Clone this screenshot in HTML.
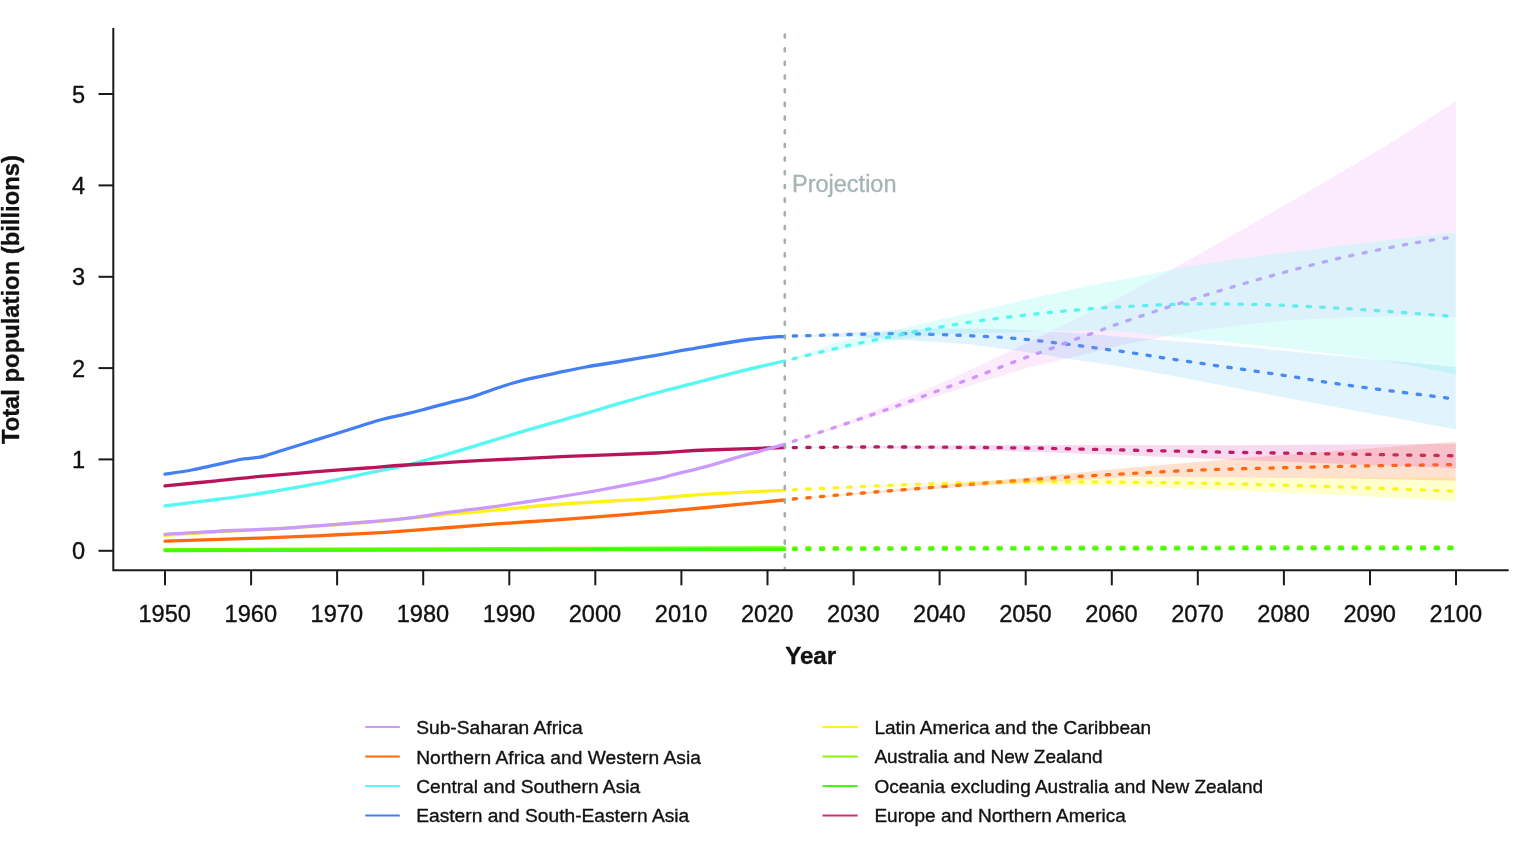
<!DOCTYPE html>
<html lang="en"><head><meta charset="utf-8"><title>Total population by region</title>
<style>html,body{margin:0;padding:0;background:#fff}body{width:1536px;height:854px;overflow:hidden}svg{display:block;filter:blur(0.45px)}text{font-family:"Liberation Sans",Arial,Helvetica,sans-serif;fill:#111;stroke:#111;stroke-width:0.35px}</style></head><body>
<svg width="1536" height="854" viewBox="0 0 1536 854">
<rect width="1536" height="854" fill="#fff"/>
<g fill="none" stroke-width="3.3" stroke-linecap="round" stroke-linejoin="round">
<path d="M165.0 549.6 C204.2 549.5 327.5 549.2 400.0 549.0 C472.5 548.8 535.9 548.6 600.0 548.4 C664.1 548.2 753.8 548.0 784.5 547.9" stroke="#8cf010"/>
<path d="M165.0 550.5 C204.2 550.4 327.5 550.2 400.0 550.1 C472.5 550.0 535.9 549.8 600.0 549.7 C664.1 549.6 753.8 549.5 784.5 549.4" stroke="#3dff0a"/>
<path d="M165.0 535.3 C173.6 534.7 199.8 532.8 216.7 531.8 C233.6 530.8 250.0 530.4 266.7 529.4 C283.4 528.4 300.0 527.2 316.7 526.0 C333.4 524.8 352.8 523.5 366.7 522.4 C380.6 521.3 386.1 520.6 400.0 519.2 C413.9 517.8 433.3 515.8 450.0 514.2 C466.7 512.6 483.3 511.2 500.0 509.7 C516.7 508.2 533.3 506.3 550.0 505.0 C566.7 503.7 582.3 502.8 600.0 501.7 C617.7 500.6 638.2 499.6 656.0 498.3 C673.8 497.1 685.3 495.5 706.7 494.2 C728.1 492.9 771.5 490.9 784.5 490.3" stroke="#fbf21c"/>
<path d="M165.0 541.2 C181.9 540.6 241.4 538.7 266.7 537.8 C292.0 536.9 300.0 536.5 316.7 535.8 C333.4 535.0 351.8 534.1 366.7 533.3 C381.6 532.5 392.1 531.8 406.0 530.8 C419.9 529.8 434.3 528.7 450.0 527.5 C465.7 526.3 483.3 524.9 500.0 523.7 C516.7 522.5 533.3 521.5 550.0 520.3 C566.7 519.1 582.3 518.1 600.0 516.7 C617.7 515.3 638.2 513.5 656.0 512.0 C673.8 510.5 685.3 509.5 706.7 507.5 C728.1 505.5 771.5 501.2 784.5 500.0" stroke="#ff6a10"/>
<path d="M165.0 474.2 C169.4 473.5 183.1 471.6 191.7 470.0 C200.3 468.4 208.6 466.4 216.7 464.7 C224.8 462.9 234.4 460.6 240.0 459.5 C245.6 458.4 246.7 458.7 250.0 458.3 C253.3 457.9 257.2 457.7 260.0 457.2 C262.8 456.7 262.8 456.5 266.7 455.3 C270.6 454.1 274.4 452.8 283.3 450.0 C292.2 447.2 308.1 442.4 320.0 438.7 C331.9 435.0 345.0 430.8 355.0 427.7 C365.0 424.6 371.7 422.2 380.0 420.0 C388.3 417.8 398.1 415.9 405.0 414.2 C411.9 412.5 414.8 411.8 421.7 410.0 C428.6 408.2 438.9 405.3 446.7 403.3 C454.5 401.3 462.8 399.5 468.3 398.0 C473.9 396.5 475.3 395.8 480.0 394.2 C484.7 392.6 491.1 390.2 496.7 388.3 C502.2 386.4 507.7 384.6 513.3 383.0 C518.8 381.4 523.0 380.3 530.0 378.7 C537.0 377.1 545.7 375.2 555.0 373.3 C564.3 371.4 575.7 368.9 586.0 367.0 C596.3 365.1 605.0 363.9 616.7 362.0 C628.4 360.1 643.8 357.4 656.0 355.3 C668.2 353.2 674.6 351.8 690.0 349.2 C705.4 346.6 732.5 341.6 748.3 339.5 C764.0 337.4 778.5 336.8 784.5 336.3" stroke="#437ff2"/>
<path d="M165.0 505.8 C173.6 504.8 199.8 501.7 216.7 499.5 C233.6 497.3 250.0 495.1 266.7 492.5 C283.4 489.9 300.0 486.9 316.7 483.7 C333.4 480.5 351.8 476.4 366.7 473.3 C381.6 470.2 393.5 468.3 406.0 465.4 C418.5 462.5 428.8 459.5 441.7 455.8 C454.6 452.1 468.0 447.9 483.3 443.3 C498.6 438.7 516.6 433.2 533.3 428.3 C550.0 423.4 569.4 418.2 583.3 414.2 C597.2 410.2 604.6 407.7 616.7 404.2 C628.8 400.7 643.8 396.3 656.0 393.0 C668.2 389.7 676.0 387.8 690.0 384.2 C704.0 380.6 724.2 375.2 740.0 371.3 C755.8 367.4 777.1 362.7 784.5 361.0" stroke="#55f8f2"/>
<path d="M165.0 485.8 C173.6 485.0 199.8 482.5 216.7 480.8 C233.6 479.1 250.0 477.3 266.7 475.8 C283.4 474.3 300.0 473.0 316.7 471.7 C333.4 470.4 351.8 469.1 366.7 468.0 C381.6 466.9 386.6 466.3 406.0 465.0 C425.4 463.7 456.5 461.8 483.3 460.4 C510.1 459.0 537.9 457.6 566.7 456.4 C595.5 455.2 632.7 454.1 656.0 453.0 C679.3 451.9 685.3 450.9 706.7 450.0 C728.1 449.1 771.5 447.9 784.5 447.5" stroke="#b8145a"/>
<path d="M165.0 534.3 C173.6 533.8 199.8 532.1 216.7 531.3 C233.6 530.4 250.0 530.1 266.7 529.2 C283.4 528.3 300.0 527.0 316.7 525.8 C333.4 524.6 351.8 523.2 366.7 522.0 C381.6 520.8 392.1 519.9 406.0 518.3 C419.9 516.7 434.3 514.3 450.0 512.2 C465.7 510.1 483.3 508.1 500.0 505.8 C516.7 503.5 533.3 500.9 550.0 498.3 C566.7 495.7 582.3 493.2 600.0 490.0 C617.7 486.8 643.8 481.8 656.0 479.2 C668.2 476.6 664.8 476.8 673.3 474.7 C681.8 472.6 695.6 469.3 706.7 466.3 C717.8 463.3 727.0 460.4 740.0 456.7 C753.0 453.0 777.1 446.4 784.5 444.4" stroke="#cc99ff"/>
</g>
<g fill="none" stroke-width="3.3" stroke-linecap="round" stroke-linejoin="round" stroke-dasharray="3.3 10.35">
<path d="M793.3 547.8 C844.4 547.7 989.6 547.4 1100.0 547.2 C1210.4 547.0 1396.7 546.9 1456.0 546.8" stroke="#8cf010"/>
<path d="M793.3 549.3 C844.4 549.2 989.6 548.9 1100.0 548.8 C1210.4 548.7 1396.7 548.5 1456.0 548.5" stroke="#3dff0a"/>
<path d="M793.3 489.8 C809.4 489.1 862.2 486.4 890.0 485.3 C917.8 484.2 935.0 483.6 960.0 483.0 C985.0 482.4 1015.3 482.2 1040.0 482.0 C1064.7 481.8 1084.4 481.8 1108.3 482.0 C1132.2 482.2 1160.5 482.6 1183.3 483.0 C1206.1 483.4 1217.2 483.5 1245.0 484.2 C1272.8 484.9 1314.8 486.1 1350.0 487.3 C1385.2 488.5 1438.3 490.6 1456.0 491.3" stroke="#fbf21c"/>
<path d="M793.3 499.0 C802.5 498.2 832.2 495.6 848.3 494.2 C864.4 492.8 864.7 492.8 890.0 490.8 C915.3 488.8 970.5 484.3 1000.0 482.0 C1029.5 479.7 1044.5 478.6 1066.7 477.2 C1088.9 475.8 1111.1 474.5 1133.3 473.3 C1155.5 472.1 1181.4 470.8 1200.0 470.0 C1218.6 469.2 1220.0 469.3 1245.0 468.7 C1270.0 468.1 1314.8 466.9 1350.0 466.2 C1385.2 465.5 1438.3 464.8 1456.0 464.5" stroke="#ff6a10"/>
<path d="M793.3 336.0 C809.4 335.6 866.9 334.0 890.0 333.7 C913.1 333.4 918.1 333.9 931.7 334.3 C945.3 334.7 958.1 335.1 971.7 335.8 C985.3 336.5 999.7 337.2 1013.3 338.3 C1026.9 339.4 1039.7 340.9 1053.3 342.5 C1066.9 344.1 1081.4 346.0 1095.0 347.8 C1108.6 349.6 1123.6 351.6 1135.0 353.3 C1146.4 355.0 1151.9 356.1 1163.3 357.8 C1174.7 359.5 1189.7 361.7 1203.3 363.7 C1216.9 365.7 1231.1 367.7 1245.0 369.7 C1258.9 371.7 1273.1 373.7 1286.7 375.8 C1300.3 377.9 1313.1 380.2 1326.7 382.2 C1340.3 384.2 1346.8 385.2 1368.3 388.0 C1389.8 390.8 1441.4 397.3 1456.0 399.2" stroke="#437ff2"/>
<path d="M793.3 358.8 C802.5 356.6 832.2 349.1 848.3 345.5 C864.4 341.9 878.5 339.4 890.0 337.0 C901.5 334.6 908.3 333.0 917.5 331.2 C926.7 329.4 933.8 328.2 945.0 326.3 C956.2 324.4 971.4 321.9 985.0 320.0 C998.6 318.1 1013.1 316.5 1026.7 315.0 C1040.3 313.5 1053.1 312.1 1066.7 310.8 C1080.3 309.6 1096.9 308.3 1108.3 307.5 C1119.7 306.7 1126.1 306.6 1135.0 306.1 C1143.9 305.7 1150.3 305.2 1161.7 304.8 C1173.1 304.4 1189.4 304.0 1203.3 303.9 C1217.2 303.8 1231.1 303.9 1245.0 304.2 C1258.9 304.5 1273.1 304.9 1286.7 305.5 C1300.3 306.1 1313.1 306.8 1326.7 307.5 C1340.3 308.2 1346.8 308.5 1368.3 310.0 C1389.8 311.5 1441.4 315.5 1456.0 316.6" stroke="#55f8f2"/>
<path d="M793.3 447.6 C804.9 447.5 837.4 447.1 863.0 447.0 C888.6 446.9 919.4 447.0 946.7 447.2 C974.0 447.4 999.8 447.6 1026.7 448.0 C1053.6 448.4 1071.9 448.9 1108.3 449.7 C1144.7 450.4 1187.0 451.5 1245.0 452.5 C1303.0 453.5 1420.8 455.2 1456.0 455.8" stroke="#b8145a"/>
<path d="M793.3 441.3 C798.0 439.7 810.3 435.5 821.7 431.7 C833.1 427.9 848.4 422.9 861.7 418.3 C875.0 413.7 888.7 408.9 901.7 404.2 C914.8 399.5 927.2 394.7 940.0 390.0 C952.8 385.3 965.2 380.8 978.3 375.8 C991.3 370.9 1007.2 364.5 1018.3 360.3 C1029.4 356.1 1036.4 354.0 1045.0 350.8 C1053.6 347.6 1061.4 344.5 1070.0 341.3 C1078.6 338.1 1088.1 334.8 1096.7 331.7 C1105.3 328.6 1110.9 326.4 1121.7 322.6 C1132.5 318.9 1148.4 313.6 1161.7 309.2 C1175.0 304.8 1188.4 300.5 1201.7 296.3 C1215.0 292.1 1228.4 288.1 1241.7 284.2 C1255.0 280.3 1268.4 276.6 1281.7 273.0 C1295.0 269.4 1308.4 265.8 1321.7 262.5 C1335.0 259.2 1347.0 256.4 1361.7 253.3 C1376.4 250.2 1394.3 246.6 1410.0 243.8 C1425.7 241.0 1448.3 237.7 1456.0 236.5" stroke="#cc99ff"/>
</g>
<defs>
<clipPath id="inC"><polygon points="784.5,361.0 840.0,341.4 905.0,327.8 970.0,312.8 1040.0,296.5 1096.7,284.2 1136.0,277.0 1172.5,269.5 1230.0,260.0 1300.0,251.0 1380.0,241.0 1455.8,232.4 1455.8,374.6 1420.0,367.0 1376.0,359.2 1330.0,353.5 1286.7,348.3 1230.0,342.5 1170.0,336.7 1120.0,331.2 1085.0,330.3 1040.0,331.3 990.0,333.0 939.0,334.5 905.0,338.5 879.0,343.4 840.0,350.0 784.5,361.0"/></clipPath>
<clipPath id="outC"><path clip-rule="evenodd" d="M0 0H1536V854H0Z M784.5 361.0 L840.0 341.4 L905.0 327.8 L970.0 312.8 L1040.0 296.5 L1096.7 284.2 L1136.0 277.0 L1172.5 269.5 L1230.0 260.0 L1300.0 251.0 L1380.0 241.0 L1455.8 232.4 L1455.8 374.6 L1420.0 367.0 L1376.0 359.2 L1330.0 353.5 L1286.7 348.3 L1230.0 342.5 L1170.0 336.7 L1120.0 331.2 L1085.0 330.3 L1040.0 331.3 L990.0 333.0 L939.0 334.5 L905.0 338.5 L879.0 343.4 L840.0 350.0 L784.5 361.0Z"/></clipPath>
</defs>
<g stroke="none">
<polygon points="784.5,444.4 853.0,419.0 939.0,384.2 1010.0,351.3 1051.0,331.3 1085.0,314.5 1120.0,297.5 1172.5,269.0 1206.7,250.0 1293.0,200.5 1379.6,149.7 1419.4,124.8 1455.8,100.9 1455.8,317.0 1420.0,316.3 1376.0,316.5 1330.0,318.0 1287.0,320.5 1245.0,324.5 1203.0,330.0 1170.0,335.5 1120.0,345.5 1075.0,356.5 1025.0,368.5 939.0,395.5 853.0,423.5 784.5,444.4" clip-path="url(#outC)" fill="#e683ee" fill-opacity="0.16"/>
<polygon points="784.5,444.4 853.0,419.0 939.0,384.2 1010.0,351.3 1051.0,331.3 1085.0,314.5 1120.0,297.5 1172.5,269.0 1206.7,250.0 1293.0,200.5 1379.6,149.7 1419.4,124.8 1455.8,100.9 1455.8,317.0 1420.0,316.3 1376.0,316.5 1330.0,318.0 1287.0,320.5 1245.0,324.5 1203.0,330.0 1170.0,335.5 1120.0,345.5 1075.0,356.5 1025.0,368.5 939.0,395.5 853.0,423.5 784.5,444.4" clip-path="url(#inC)" fill="#e683ee" fill-opacity="0.115"/>
<polygon points="784.5,361.0 840.0,341.4 905.0,327.8 970.0,312.8 1040.0,296.5 1096.7,284.2 1136.0,277.0 1172.5,269.5 1230.0,260.0 1300.0,251.0 1380.0,241.0 1455.8,232.4 1455.8,374.6 1420.0,367.0 1376.0,359.2 1330.0,353.5 1286.7,348.3 1230.0,342.5 1170.0,336.7 1120.0,331.2 1085.0,330.3 1040.0,331.3 990.0,333.0 939.0,334.5 905.0,338.5 879.0,343.4 840.0,350.0 784.5,361.0" fill="#50f4ea" fill-opacity="0.185"/>
<polygon points="784.5,336.3 853.0,332.0 939.0,328.5 1000.0,329.0 1040.0,331.0 1085.0,333.7 1130.0,337.5 1186.7,342.0 1245.0,347.0 1286.7,351.0 1330.0,355.3 1376.0,359.5 1420.0,363.5 1455.8,366.9 1455.8,429.3 1300.0,400.4 1253.3,391.5 1186.7,378.6 1120.0,366.3 1069.0,359.0 1040.0,354.0 1009.0,349.4 970.0,344.2 905.0,340.0 853.0,337.0 784.5,336.3" fill="#5cc0f4" fill-opacity="0.185"/>
<polygon points="784.5,490.3 900.0,484.0 1000.0,480.3 1120.0,478.0 1240.0,477.3 1455.8,477.5 1455.8,501.2 1350.0,495.5 1240.0,490.8 1120.0,486.0 1000.0,484.5 900.0,486.3 784.5,490.3" fill="#ffff1e" fill-opacity="0.22"/>
<polygon points="784.5,500.0 900.0,488.5 1000.0,480.0 1133.0,467.5 1240.0,458.3 1455.8,441.7 1455.8,480.8 1350.0,478.5 1240.0,477.5 1133.0,477.0 1000.0,484.2 900.0,491.5 784.5,500.0" fill="#ff6a10" fill-opacity="0.2"/>
<polygon points="784.5,447.5 900.0,446.0 1000.0,445.0 1240.0,445.3 1455.8,443.8 1455.8,468.3 1240.0,460.0 1120.0,455.0 1000.0,450.8 900.0,448.5 784.5,447.5" fill="#d83cb0" fill-opacity="0.19"/>
</g>
<line x1="784.8" y1="34.5" x2="784.8" y2="569.5" stroke="#9fb0ad" stroke-width="2.6" stroke-linecap="round" stroke-dasharray="3.0 10.68"/>
<text x="792" y="191.6" font-size="23.5" style="fill:#a6b4b4;stroke:#a6b4b4">Projection</text>
<g stroke="#1a1a1a" stroke-width="2" fill="none">
<path d="M113.3 28 V570.3 H1508.7"/>
<line x1="98.5" x2="113.3" y1="550.8" y2="550.8"/>
<line x1="98.5" x2="113.3" y1="459.4" y2="459.4"/>
<line x1="98.5" x2="113.3" y1="368.1" y2="368.1"/>
<line x1="98.5" x2="113.3" y1="276.8" y2="276.8"/>
<line x1="98.5" x2="113.3" y1="185.4" y2="185.4"/>
<line x1="98.5" x2="113.3" y1="94.0" y2="94.0"/>
<line x1="165.0" x2="165.0" y1="570.3" y2="585.3"/>
<line x1="251.1" x2="251.1" y1="570.3" y2="585.3"/>
<line x1="337.1" x2="337.1" y1="570.3" y2="585.3"/>
<line x1="423.2" x2="423.2" y1="570.3" y2="585.3"/>
<line x1="509.3" x2="509.3" y1="570.3" y2="585.3"/>
<line x1="595.3" x2="595.3" y1="570.3" y2="585.3"/>
<line x1="681.4" x2="681.4" y1="570.3" y2="585.3"/>
<line x1="767.5" x2="767.5" y1="570.3" y2="585.3"/>
<line x1="853.6" x2="853.6" y1="570.3" y2="585.3"/>
<line x1="939.6" x2="939.6" y1="570.3" y2="585.3"/>
<line x1="1025.7" x2="1025.7" y1="570.3" y2="585.3"/>
<line x1="1111.8" x2="1111.8" y1="570.3" y2="585.3"/>
<line x1="1197.8" x2="1197.8" y1="570.3" y2="585.3"/>
<line x1="1283.9" x2="1283.9" y1="570.3" y2="585.3"/>
<line x1="1370.0" x2="1370.0" y1="570.3" y2="585.3"/>
<line x1="1456.0" x2="1456.0" y1="570.3" y2="585.3"/>
</g>
<g font-size="23.6" text-anchor="middle">
<text x="78.5" y="559.4">0</text>
<text x="78.5" y="468.0">1</text>
<text x="78.5" y="376.7">2</text>
<text x="78.5" y="285.4">3</text>
<text x="78.5" y="194.0">4</text>
<text x="78.5" y="102.6">5</text>
<text x="164.7" y="622.2">1950</text>
<text x="250.8" y="622.2">1960</text>
<text x="336.8" y="622.2">1970</text>
<text x="422.9" y="622.2">1980</text>
<text x="509.0" y="622.2">1990</text>
<text x="595.0" y="622.2">2000</text>
<text x="681.1" y="622.2">2010</text>
<text x="767.2" y="622.2">2020</text>
<text x="853.3" y="622.2">2030</text>
<text x="939.3" y="622.2">2040</text>
<text x="1025.4" y="622.2">2050</text>
<text x="1111.5" y="622.2">2060</text>
<text x="1197.5" y="622.2">2070</text>
<text x="1283.6" y="622.2">2080</text>
<text x="1369.7" y="622.2">2090</text>
<text x="1455.8" y="622.2">2100</text>
</g>
<text x="810.7" y="664.2" font-size="24.2" font-weight="bold" text-anchor="middle">Year</text>
<text transform="translate(18.6 299.6) rotate(-90)" font-size="23.8" font-weight="bold" text-anchor="middle">Total population (billions)</text>
<g font-size="19.2">
<line x1="365.2" x2="399.8" y1="726.9" y2="726.9" stroke="#cc99ff" stroke-width="2"/>
<text x="416.2" y="733.7">Sub-Saharan Africa</text>
<line x1="365.2" x2="399.8" y1="756.5" y2="756.5" stroke="#ff6a10" stroke-width="2"/>
<text x="416.2" y="763.8" letter-spacing="0.045">Northern Africa and Western Asia</text>
<line x1="365.2" x2="399.8" y1="786.0" y2="786.0" stroke="#55f8f2" stroke-width="2"/>
<text x="416.2" y="792.8">Central and Southern Asia</text>
<line x1="365.2" x2="399.8" y1="815.6" y2="815.6" stroke="#437ff2" stroke-width="2"/>
<text x="416.2" y="822.4">Eastern and South-Eastern Asia</text>
<line x1="822.6" x2="857.7" y1="726.9" y2="726.9" stroke="#fbf21c" stroke-width="2"/>
<text x="874.4" y="733.7" font-size="19">Latin America and the Caribbean</text>
<line x1="822.6" x2="857.7" y1="756.5" y2="756.5" stroke="#8cf010" stroke-width="2"/>
<text x="874.4" y="763.3" font-size="19">Australia and New Zealand</text>
<line x1="822.6" x2="857.7" y1="786.0" y2="786.0" stroke="#3dff0a" stroke-width="2"/>
<text x="874.4" y="792.8" font-size="19">Oceania excluding Australia and New Zealand</text>
<line x1="822.6" x2="857.7" y1="815.6" y2="815.6" stroke="#cc3377" stroke-width="2"/>
<text x="874.4" y="822.4" font-size="19">Europe and Northern America</text>
</g>
</svg></body></html>
